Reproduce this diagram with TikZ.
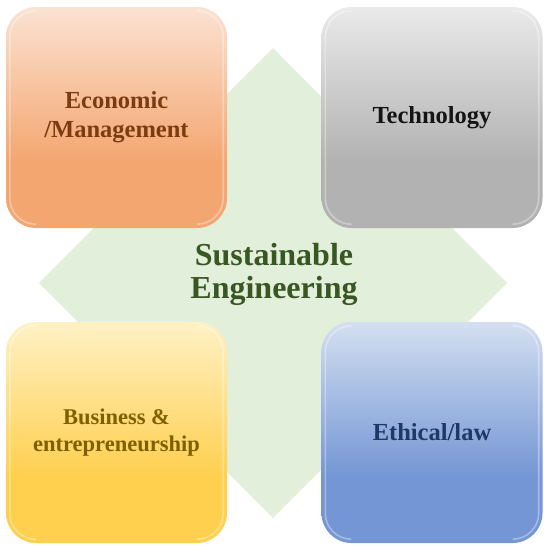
\documentclass[tikz,border=0pt]{standalone}
\usepackage{fontspec}
\setmainfont{Liberation Serif}
\definecolor{orT}{RGB}{251,226,210}
\definecolor{orB}{RGB}{244,166,112}
\definecolor{grT}{RGB}{234,234,234}
\definecolor{grB}{RGB}{178,178,178}
\definecolor{yeT}{RGB}{255,241,198}
\definecolor{yeB}{RGB}{255,208,78}
\definecolor{blT}{RGB}{212,223,241}
\definecolor{blB}{RGB}{116,150,212}
\definecolor{diam}{RGB}{226,239,218}
\definecolor{cgreen}{RGB}{56,87,35}
\definecolor{tbrown}{RGB}{124,60,18}
\definecolor{tolive}{RGB}{127,96,0}
\definecolor{tnavy}{RGB}{31,56,100}
\definecolor{tblack}{RGB}{20,20,20}
\pgfdeclareverticalshading{orS}{100bp}{color(0bp)=(orB); color(40bp)=(orB); color(75bp)=(orT); color(100bp)=(orT)}
\pgfdeclareverticalshading{grS}{100bp}{color(0bp)=(grB); color(40bp)=(grB); color(75bp)=(grT); color(100bp)=(grT)}
\pgfdeclareverticalshading{yeS}{100bp}{color(0bp)=(yeB); color(40bp)=(yeB); color(75bp)=(yeT); color(100bp)=(yeT)}
\pgfdeclareverticalshading{blS}{100bp}{color(0bp)=(blB); color(40bp)=(blB); color(75bp)=(blT); color(100bp)=(blT)}
\tikzset{
  glossbox/.style={rectangle, rounded corners=30pt, minimum width=221pt, minimum height=221pt,
    inner sep=0pt, align=center, font=\bfseries\fontsize{24.5}{29}\selectfont},
  rim/.style={white, opacity=.35, line width=1.6pt, line cap=round, rounded corners=26pt},
  centertext/.style={align=center, text=cgreen, font=\bfseries\fontsize{32}{33}\selectfont}
}
\newcommand\glossrim[1]{%
  \draw[rim] ([shift={(28,4)}]#1.north west) -- ([shift={(4,4)}]#1.north west)
     -- ([shift={(4,-4)}]#1.south west) -- ([shift={(28,-4)}]#1.south west);
  \draw[rim] ([shift={(-28,4)}]#1.north east) -- ([shift={(-4,4)}]#1.north east)
     -- ([shift={(-4,-4)}]#1.south east) -- ([shift={(-28,-4)}]#1.south east);
}
\begin{document}
\begin{tikzpicture}[x=1pt,y=-1pt]
\useasboundingbox (0,0) rectangle (548,550);
% background diamond
\fill[diam] (273,48) -- (507,283) -- (273,518) -- (39,283) -- cycle;
% boxes
\node[glossbox, shading=orS, text=tbrown] (econ) at (116.5,117.5) {Economic\\/Management};
\node[glossbox, shading=grS, text=tblack] (tech) at (432,117.5) {Technology};
\node[glossbox, shading=yeS, text=tolive, font=\bfseries\fontsize{22.5}{27}\selectfont] (bus) at (116.5,432.5) {Business \&\\entrepreneurship};
\node[glossbox, shading=blS, text=tnavy] (eth) at (432,432.5) {Ethical/law};
\glossrim{econ}
\glossrim{tech}
\glossrim{bus}
\glossrim{eth}
% centre
\node[centertext] (sust) at (274,274) {Sustainable\\Engineering};
\end{tikzpicture}
\end{document}
